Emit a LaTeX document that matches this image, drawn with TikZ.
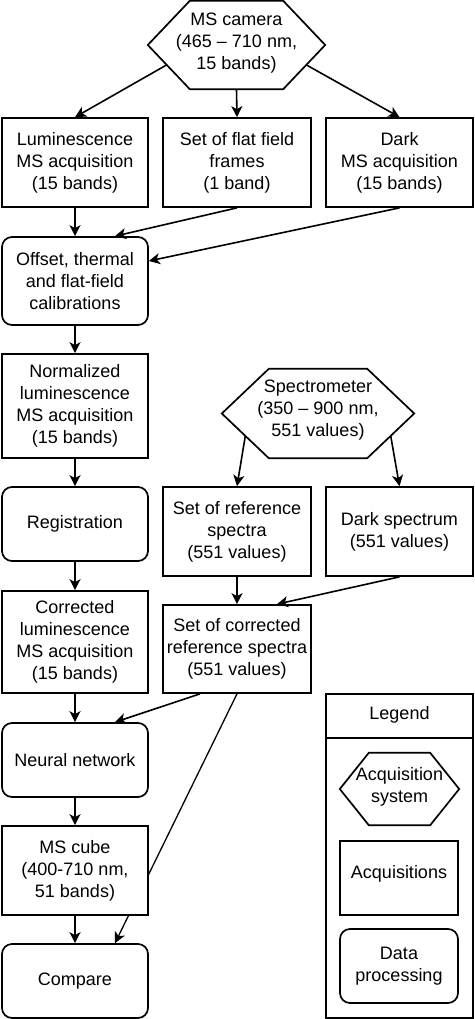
\documentclass[tikz,border=0pt]{standalone}
\usepackage{fontspec}
\setmainfont{Liberation Sans}
\usetikzlibrary{arrows.meta,calc,backgrounds}
\newcommand{\fsz}{\fontsize{18}{22}\selectfont}
\tikzset{
  x=1pt, y=-1pt,
  box/.style={draw, line width=1.7pt, fill=white, align=center, inner sep=0pt, font=\fsz, minimum width=146pt},
  proc/.style={box, rounded corners=10pt},
  hexbox/.style={inner sep=0pt, align=center, font=\fsz},
  hexline/.style={line width=1.7pt, fill=white, line join=miter},
  conn/.style={line width=1.6pt, -{Stealth[length=11pt,width=11pt,inset=3pt]}},
}
\newcommand{\hexdraw}[2]{% node name, inset
  \draw[hexline] (#1.west) -- ($(#1.north west)+(#2,0)$) -- ($(#1.north east)-(#2,0)$) -- (#1.east) -- ($(#1.south east)-(#2,0)$) -- ($(#1.south west)+(#2,0)$) -- cycle;}
\begin{document}
\begin{tikzpicture}
\useasboundingbox (0,0) rectangle (474,1019);
\node[hexbox, minimum width=177pt, minimum height=88pt] (cam) at (236.5,45) {};
\hexdraw{cam}{42pt}
\node[hexbox] (camt) at (236.5,43) {MS camera\\(465 -- 710 nm,\\15 bands)};

\node[box, minimum height=89pt] (lum) at (75,162.5) {Luminescence\\MS acquisition\\(15 bands)};
\node[box, minimum width=148pt, minimum height=89pt] (flat) at (237,162.5) {Set of flat field\\frames\\(1 band)};
\node[box, minimum width=147pt, minimum height=89pt] (dark) at (399.5,162.5) {Dark\\MS acquisition\\(15 bands)};

\node[proc, minimum height=88pt] (cal) at (75,281) {Offset, thermal\\and flat-field\\calibrations};
\node[box, minimum height=104pt] (norm) at (75,406) {Normalized\\luminescence\\MS acquisition\\(15 bands)};

\node[hexbox, minimum width=192pt, minimum height=89pt] (spec) at (318,413.5) {};
\hexdraw{spec}{47pt}
\node[hexbox] (spect) at (318,410) {Spectrometer\\(350 -- 900 nm,\\551 values)};

\node[proc, minimum height=74pt] (reg) at (75,524) {Registration};
\node[box, minimum width=148pt, minimum height=89pt] (ref) at (237,531.5) {Set of reference\\spectra\\(551 values)};
\node[box, minimum width=147pt, minimum height=89pt] (dsp) at (399.5,531.5) {Dark spectrum\\(551 values)};

\node[box, minimum height=102pt] (corr) at (75,642) {Corrected\\luminescence\\MS acquisition\\(15 bands)};
\node[box, minimum width=148pt, minimum height=88pt] (cref) at (237,649) {Set of corrected\\reference spectra\\(551 values)};

\node[proc, minimum height=74pt] (nn) at (75,760) {Neural network};
\node[box, minimum height=89pt] (cube) at (75,870.5) {MS cube\\(400-710 nm,\\51 bands)};
\node[proc, minimum height=74pt] (cmp) at (75,981) {Compare};

% legend
\node[box, minimum width=147pt, minimum height=324pt] (leg) at (399.5,856) {};
\draw[line width=1.7pt] (leg.west |- 0,738) coordinate (lgl) -- (leg.east |- 0,738) coordinate (lgr);
\node[hexbox] (legt) at (399.5,715) {Legend};
\node[hexbox, minimum width=119pt, minimum height=72pt] (lhex) at (399.5,789) {};
\hexdraw{lhex}{29pt}
\node[hexbox] (lhext) at (399.5,787) {Acquisition\\system};
\node[box, minimum width=118pt, minimum height=74pt] (lrect) at (399,878) {};
\node[hexbox] (lrectt) at (399,874) {Acquisitions};
\node[proc, minimum width=118pt, minimum height=74pt] (lround) at (399,966) {Data\\processing};

% connectors
\coordinate (c1) at ($(cam.west)!0.45!($(cam.south west)+(42pt,0)$)$);
\coordinate (c2) at ($(cam.east)!0.45!($(cam.south east)-(42pt,0)$)$);
\draw[conn] (c1) -- (lum.north);
\draw[conn] (cam.south) -- (flat.north);
\draw[conn] (c2) -- (dark.north);
\draw[conn] (lum.south) -- (cal.north);
\draw[conn] (flat.south) -- ($(cal.north)+(40pt,0)$);
\draw[conn] (dark.south) -- ($(cal.east)+(0,20pt)$);
\draw[conn] (cal.south) -- (norm.north);
\draw[conn] (norm.south) -- (reg.north);
\coordinate (s1) at ($(spec.west)!0.5!($(spec.south west)+(47pt,0)$)$);
\coordinate (s2) at ($(spec.east)!0.5!($(spec.south east)-(47pt,0)$)$);
\draw[conn] (s1) -- (ref.north);
\draw[conn] (s2) -- (dsp.north);
\draw[conn] (reg.south) -- (corr.north);
\draw[conn] (ref.south) -- (cref.north);
\draw[conn] (dsp.south) -- ($(cref.north)+(40pt,0)$);
\draw[conn] (corr.south) -- (nn.north);
\draw[conn] ($(cref.south)-(37pt,0)$) -- ($(nn.north)+(40pt,0)$);
\draw[conn] (nn.south) -- (cube.north);
\draw[conn] (cube.south) -- (cmp.north);
\begin{scope}[on background layer]
\draw[conn, line width=1.3pt] (cref.south) -- ($(cmp.north)+(40pt,0)$);
\end{scope}
\end{tikzpicture}
\end{document}
